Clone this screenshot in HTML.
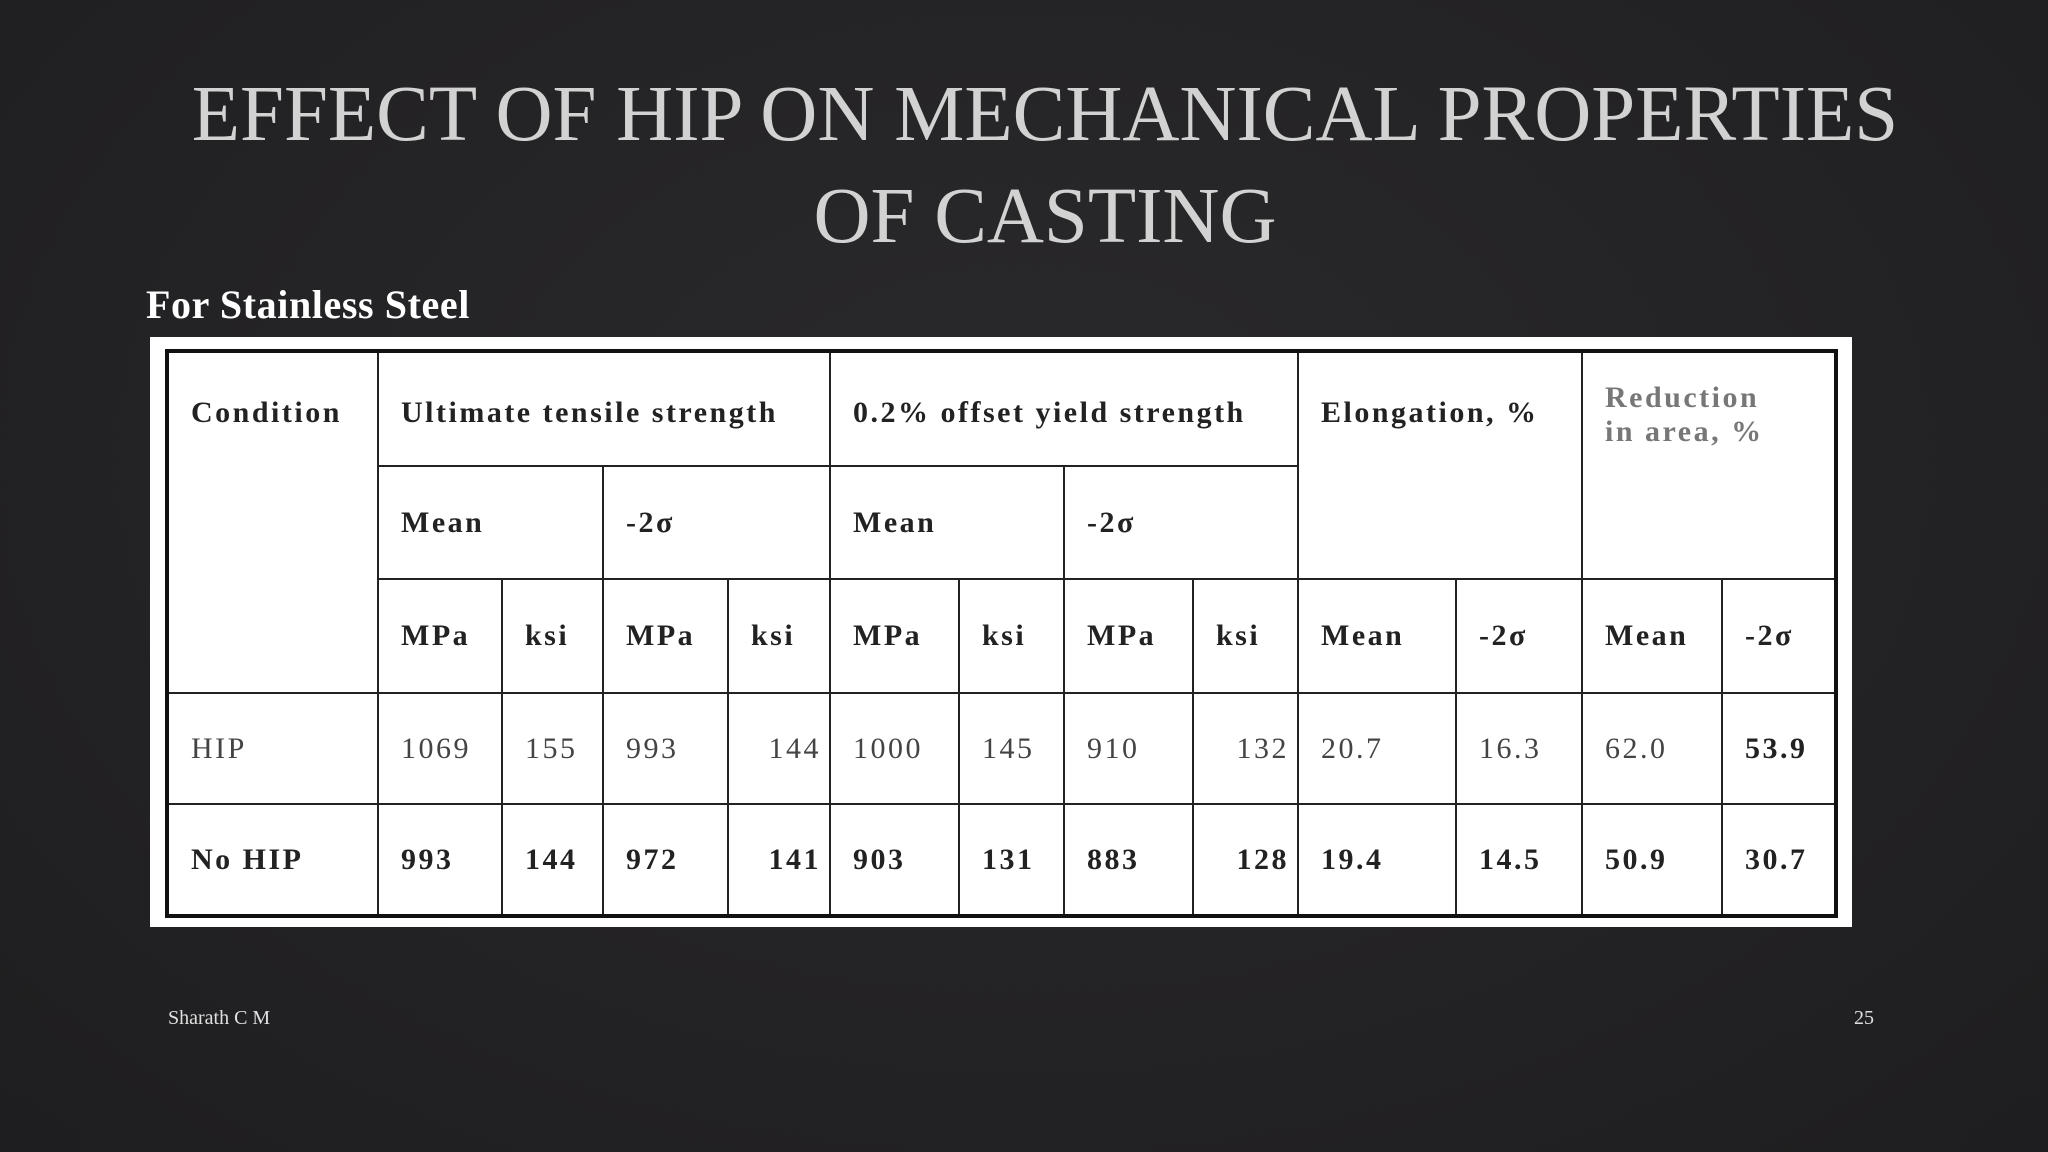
<!DOCTYPE html>
<html><head><meta charset="utf-8"><style>
html,body{margin:0;padding:0}
body{width:2048px;height:1152px;background:radial-gradient(ellipse at 50% 40%,#2a292b 0%,#232224 60%,#1e1d1f 100%);position:relative;overflow:hidden;font-family:"Liberation Serif",serif}
.title{position:absolute;left:0;width:2090px;top:64px;text-align:center;color:#d2d2d2;font-size:79px;line-height:102px;letter-spacing:0px}
.sub{position:absolute;left:146px;top:281px;color:#fff;font-size:40px;font-weight:bold;letter-spacing:0.6px}
.box{position:absolute;left:150px;top:337px;width:1702px;height:590px;background:#fff}
table{position:absolute;left:165px;top:349px;border-collapse:collapse;border:4px solid #111;table-layout:fixed}
td{border:2.5px solid #222;vertical-align:top;padding:43px 0 0 22px;font-size:30px;letter-spacing:2.5px;color:#444;box-sizing:border-box;white-space:nowrap;line-height:34px;overflow:visible}
td.b{font-weight:bold;color:#222}
td.m{vertical-align:middle;padding-top:0}
.foot{position:absolute;top:1007px;color:#e0e0e0;font-size:20px}
</style></head><body>
<div class="title">EFFECT OF HIP ON MECHANICAL PROPERTIES<br>OF CASTING</div>
<div class="sub">For Stainless Steel</div>
<div class="box"></div>
<table>
<colgroup><col style="width:211px"><col style="width:124px"><col style="width:101px"><col style="width:125px"><col style="width:102px"><col style="width:129px"><col style="width:105px"><col style="width:129px"><col style="width:105px"><col style="width:158px"><col style="width:126px"><col style="width:140px"><col style="width:114px"></colgroup>
<tr style="height:115px">
<td class="b" rowspan="3">Condition</td>
<td class="b" colspan="4">Ultimate tensile strength</td>
<td class="b" colspan="4">0.2% offset yield strength</td>
<td class="b" colspan="2" rowspan="2">Elongation, %</td>
<td colspan="2" rowspan="2" style="padding-top:28px;line-height:34px;color:#777;font-weight:bold">Reduction<br>in area, %</td>
</tr>
<tr style="height:113px">
<td class="b m" colspan="2">Mean</td>
<td class="b m" colspan="2">-2σ</td>
<td class="b m" colspan="2">Mean</td>
<td class="b m" colspan="2">-2σ</td>
</tr>
<tr style="height:114px">
<td class="b m">MPa</td><td class="b m">ksi</td>
<td class="b m">MPa</td><td class="b m">ksi</td>
<td class="b m">MPa</td><td class="b m">ksi</td>
<td class="b m">MPa</td><td class="b m">ksi</td>
<td class="b m">Mean</td><td class="b m">-2σ</td>
<td class="b m">Mean</td><td class="b m">-2σ</td>
</tr>
<tr style="height:111px">
<td class="m">HIP</td>
<td class="m">1069</td><td class="m">155</td>
<td class="m">993</td><td class="m" style="text-align:right;padding-right:8px">144</td>
<td class="m">1000</td><td class="m">145</td>
<td class="m">910</td><td class="m" style="text-align:right;padding-right:8px">132</td>
<td class="m">20.7</td><td class="m">16.3</td>
<td class="m">62.0</td><td class="b m">53.9</td>
</tr>
<tr style="height:112px">
<td class="b m">No HIP</td>
<td class="b m">993</td><td class="b m">144</td>
<td class="b m">972</td><td class="b m" style="text-align:right;padding-right:8px">141</td>
<td class="b m">903</td><td class="b m">131</td>
<td class="b m">883</td><td class="b m" style="text-align:right;padding-right:8px">128</td>
<td class="b m">19.4</td><td class="b m">14.5</td>
<td class="b m">50.9</td><td class="b m">30.7</td>
</tr>
</table>
<div class="foot" style="left:168px">Sharath C M</div>
<div class="foot" style="left:1854px">25</div>
</body></html>
